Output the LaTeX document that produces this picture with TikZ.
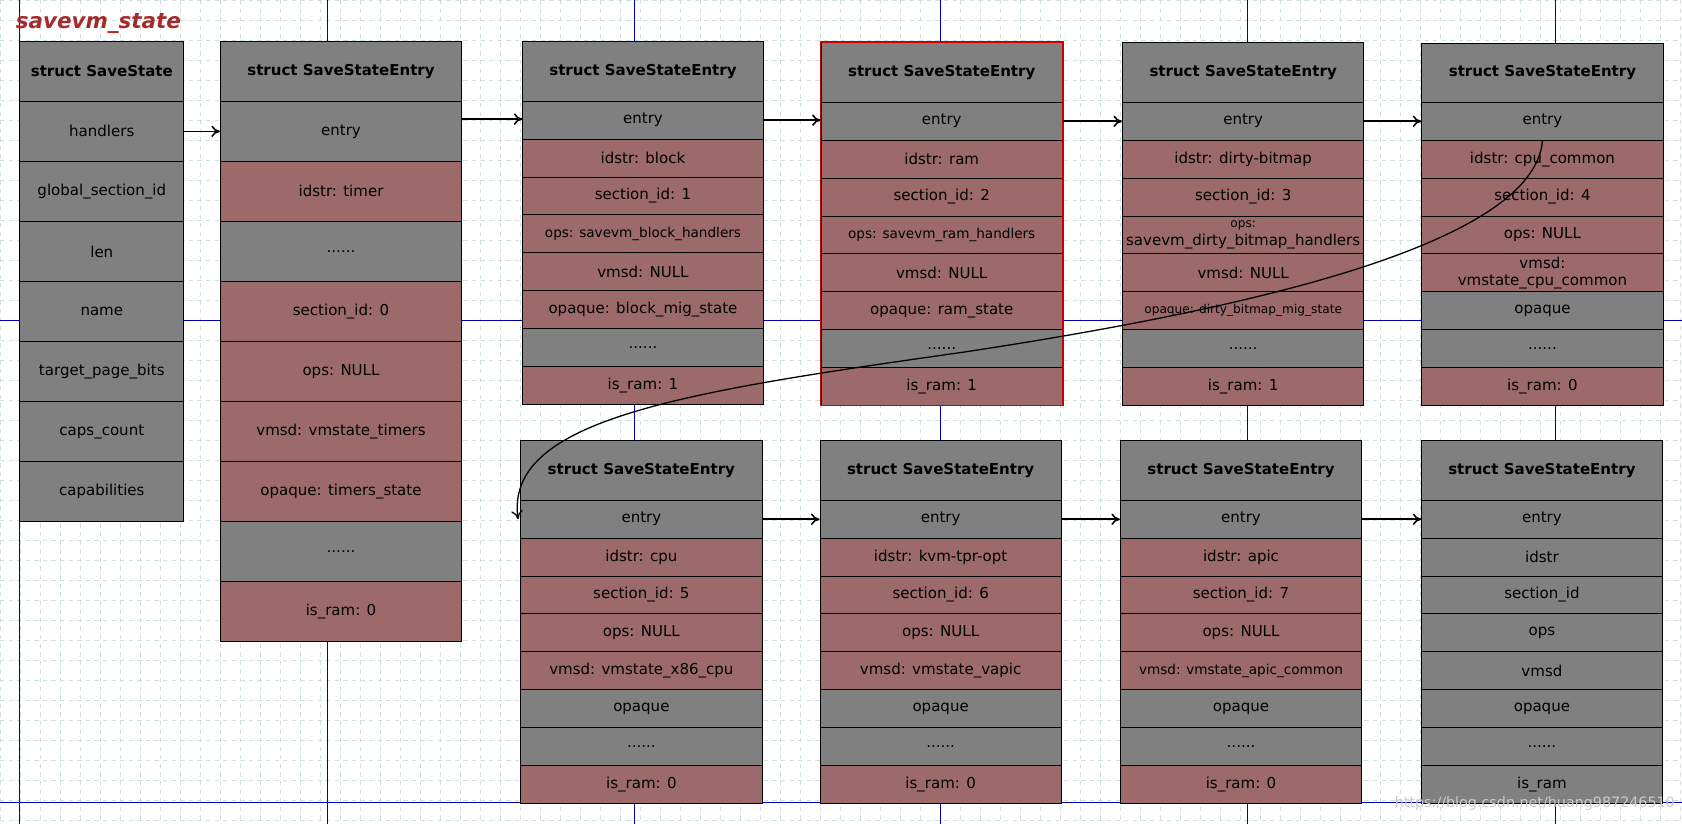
\documentclass[tikz,border=0pt]{standalone}
\usepackage{fontspec}
\setmainfont{DejaVu Sans}
\usetikzlibrary{arrows.meta,calc}
\definecolor{cg}{HTML}{808080}
\definecolor{cr}{HTML}{9C6A6A}
\definecolor{gridc}{HTML}{CFE0E0}
\definecolor{titc}{HTML}{A52A2A}
\newcommand\dd{......}
\tikzset{
 cell/.style={draw=black,line width=0.6pt,rectangle,anchor=north west,inner sep=0pt,align=center,font=\fontsize{10.5}{12}\selectfont},
 ttl/.style={cell,fill=cg,font=\fontsize{10.5}{12}\selectfont\bfseries},
 arr/.style={-{To[length=6pt,width=8pt]},line width=1.1pt},
}
% #1 name #2 x1 #3 x2 #4 ytop #5 title h #6 row h #7 rows
\newcommand\mkbox[7]{%
 \node[ttl,minimum width={(#3-#2)*0.75pt},minimum height={#5*0.75pt}] (#1-0) at (#2,#4) {struct SaveStateEntry};
 \foreach \c/\t [count=\i] in {#7}{%
  \node[cell,fill=\c,minimum width={(#3-#2)*0.75pt},minimum height={#6*0.75pt}] (#1-\i) at (#2,{#4+#5+(\i-1)*#6}) {\t};
 }%
}
\begin{document}
\begin{tikzpicture}[x=0.75pt,y=-0.75pt]
\useasboundingbox (0,0) rectangle (1568,768);
\fill[white] (0,0) rectangle (1568,768);
\foreach \k in {0,...,84}{\draw[gridc,dashed,line width=0.5pt] ({\k*18.65},0) -- ({\k*18.65},768);}
\foreach \k in {0,...,41}{\draw[gridc,dashed,line width=0.5pt] (0,{\k*18.65}) -- (1568,{\k*18.65});}
\foreach \xx in {18,305,591,877,1163,1450}{\draw[blue!70!black,line width=0.6pt] (\xx,0) -- (\xx,768);}
\foreach \yy in {299,748}{\draw[blue!70!black,line width=0.6pt] (0,\yy) -- (1568,\yy);}
\node[anchor=west,text=titc,font=\fontsize{15}{17}\selectfont\bfseries\itshape] (title) at (10,22) {savevm\_state};
% SaveState
\node[ttl,minimum width={153*0.75pt},minimum height={56*0.75pt}] (ss-0) at (18,38) {struct SaveState};
\foreach \t [count=\i] in {handlers,global\_section\_id,len,name,target\_page\_bits,caps\_count,capabilities}{%
 \node[cell,fill=cg,minimum width={153*0.75pt},minimum height={56*0.75pt}] (ss-\i) at (18,{38+\i*56}) {\t};}
\mkbox{tm}{205}{430}{38}{56}{56}{cg/entry,cr/idstr: timer,cg/\dd,cr/section\_id: 0,cr/ops: NULL,cr/vmsd: vmstate\_timers,cr/opaque: timers\_state,cg/\dd,cr/is\_ram: 0}
\mkbox{bl}{487}{711}{38}{56}{35.3}{cg/entry,cr/idstr: block,cr/section\_id: 1,cr/{\fontsize{9.5}{11}\selectfont ops: savevm\_block\_handlers},cr/vmsd: NULL,cr/opaque: block\_mig\_state,cg/\dd,cr/is\_ram: 1}
\mkbox{rm}{765}{990}{39}{56}{35.3}{cg/entry,cr/idstr: ram,cr/section\_id: 2,cr/{\fontsize{9.5}{11}\selectfont ops: savevm\_ram\_handlers},cr/vmsd: NULL,cr/opaque: ram\_state,cg/\dd,cr/is\_ram: 1}
\draw[red!80!black,line width=1pt] (rm-0.north west) rectangle (rm-8.south east);
\mkbox{db}{1046}{1271}{39}{56}{35.3}{cg/entry,cr/idstr: dirty-bitmap,cr/section\_id: 3,cr/{\fontsize{8.5}{10}\selectfont ops:\\savevm\_dirty\_bitmap\_handlers},cr/vmsd: NULL,cr/{\fontsize{8.5}{10}\selectfont opaque: dirty\_bitmap\_mig\_state},cg/\dd,cr/is\_ram: 1}
\mkbox{cc}{1325}{1550}{40}{55}{35.3}{cg/entry,cr/idstr: cpu\_common,cr/section\_id: 4,cr/ops: NULL,cr/{vmsd:\\vmstate\_cpu\_common},cg/opaque,cg/\dd,cr/is\_ram: 0}
\mkbox{cp}{485}{710}{410}{56}{35.3}{cg/entry,cr/idstr: cpu,cr/section\_id: 5,cr/ops: NULL,cr/vmsd: vmstate\_x86\_cpu,cg/opaque,cg/\dd,cr/is\_ram: 0}
\mkbox{kv}{764}{989}{410}{56}{35.3}{cg/entry,cr/idstr: kvm-tpr-opt,cr/section\_id: 6,cr/ops: NULL,cr/vmsd: vmstate\_vapic,cg/opaque,cg/\dd,cr/is\_ram: 0}
\mkbox{ap}{1044}{1269}{410}{56}{35.3}{cg/entry,cr/idstr: apic,cr/section\_id: 7,cr/ops: NULL,cr/{\fontsize{9.5}{11}\selectfont vmsd: vmstate\_apic\_common},cg/opaque,cg/\dd,cr/is\_ram: 0}
\mkbox{ls}{1325}{1549}{410}{56}{35.3}{cg/entry,cg/idstr,cg/section\_id,cg/ops,cg/vmsd,cg/opaque,cg/\dd,cg/is\_ram}
% arrows
\draw[arr] (ss-1.east) -- (tm-0.west |- ss-1.east);
\draw[arr] (tm-1.east |- 0,111) -- (bl-1.west |- 0,111);
\draw[arr] (bl-1.east) -- (rm-1.west |- bl-1.east);
\draw[arr] (rm-1.east) -- (db-1.west |- rm-1.east);
\draw[arr] (db-1.east) -- (cc-1.west |- db-1.east);
\draw[arr] (cp-1.east) -- (kv-1.west |- cp-1.east);
\draw[arr] (kv-1.east) -- (ap-1.west |- kv-1.east);
\draw[arr] (ap-1.east) -- (ls-1.west |- ap-1.east);
\coordinate (cend) at ($(cp-1.west)+(-2,0)$);
\draw[arr,line width=0.9pt] (cc-1.south) .. controls (1430,230) and (1150,290) .. (900,328) .. controls (640,365) and (470,390) .. (cend);
\node[anchor=east,text=gray!40,font=\fontsize{10}{12}\selectfont] (wm) at (1566,749) {https://blog.csdn.net/huang987246510};
\end{tikzpicture}
\end{document}
